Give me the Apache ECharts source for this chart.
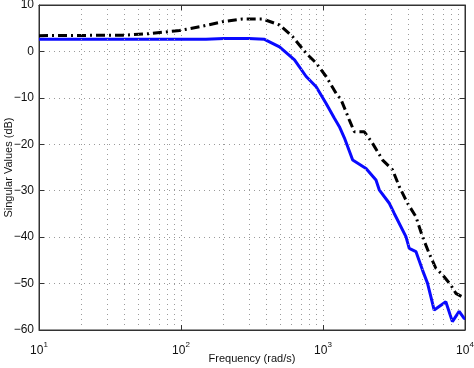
<!DOCTYPE html>
<html><head><meta charset="utf-8">
<script src="https://cdn.jsdelivr.net/npm/echarts@6/dist/echarts.min.js"></script>
<style>html,body{margin:0;padding:0;background:#fff}#c{width:474px;height:368px}</style>
</head><body><div id="c"></div>
<script>
// Data
const freqBlue = [10, 50, 150, 200, 300, 387, 494, 630, 761, 895, 1052, 1203, 1304, 1414, 1618, 2009, 2361, 2489, 2930, 3175, 3837, 4048, 4511, 5020, 5443, 6067, 7328, 8150, 9095, 9860, 10000];
const dbBlue   = [2.6, 2.6, 2.6, 2.8, 2.8, 2.6, 1.0, -1.8, -5.4, -7.6, -11.2, -14.4, -16.2, -18.6, -23.4, -25.2, -27.7, -29.8, -32.7, -34.9, -39.9, -42.4, -43.1, -47.1, -49.9, -55.7, -53.9, -58.2, -56.0, -57.5, -57.5];
const freqBlack = [10, 38.9, 58.3, 97.9, 135, 196, 271, 375, 494, 610, 761, 895, 1052, 1236, 1341, 1534, 1662, 1954, 2234, 2630, 3090, 3443, 3937, 4511, 5020, 5593, 6234, 6937, 7946, 8617, 10000];
const dbBlack   = [3.4, 3.5, 3.8, 4.5, 5.3, 6.4, 7.0, 7.0, 5.7, 3.2, -0.4, -2.5, -5.4, -9.0, -10.4, -14.8, -17.3, -17.3, -19.8, -23.4, -25.5, -29.1, -32.7, -35.6, -39.9, -43.5, -46.7, -48.1, -50.3, -52.1, -53.2];
const xTickExps = [1, 2, 3, 4];
const yTicks = [-60, -50, -40, -30, -20, -10, 0, 10];
const minorGridFreqs = [20,30,40,50,60,70,80,90,200,300,400,500,600,700,800,900,2000,3000,4000,5000,6000,7000,8000,9000];

const chart = echarts.init(document.getElementById('c'), null, {renderer: 'canvas'});
const font = 'Liberation Sans, Arial, sans-serif';
const gridDot = {color: '#9a9a9a', width: 1, type: [1, 4]};
const axisCol = '#333';
const pairs = (xs, ys) => xs.map((x, i) => [x, ys[i]]);

chart.setOption({
  animation: false,
  backgroundColor: '#fff',
  grid: {left: 39, right: 9, top: 5, bottom: 38, show: true, borderColor: axisCol, borderWidth: 1,
    containLabel: false, outerBoundsMode: 'none'},
  xAxis: [{
    type: 'log', logBase: 10, min: 10, max: 10000,
    name: 'Frequency (rad/s)', nameLocation: 'middle', nameGap: 23, nameMoveOverlap: false,
    nameTextStyle: {fontFamily: font, fontSize: 11, color: '#111'},
    axisLine: {show: true, onZero: false, lineStyle: {color: axisCol}},
    axisTick: {show: true, inside: true, length: 5, lineStyle: {color: axisCol}},
    splitLine: {show: true, lineStyle: gridDot},
    axisLabel: {
      margin: 11, color: '#111', fontFamily: font,
      formatter: v => '{b|10}{s|' + Math.round(Math.log10(v)) + '}',
      rich: {b: {fontSize: 12, fontFamily: font, color: '#111'}, s: {fontSize: 8, fontFamily: font, color: '#111', padding: [0, 0, 11, 0]}}
    }
  }, {
    type: 'log', logBase: 10, min: 10, max: 10000, position: 'top',
    axisLine: {show: true, onZero: false, lineStyle: {color: axisCol}},
    axisTick: {show: true, inside: true, length: 5, lineStyle: {color: axisCol}},
    axisLabel: {show: false}, splitLine: {show: false}
  }],
  yAxis: [{
    type: 'value', min: -60, max: 10, interval: 10,
    name: 'Singular Values (dB)', nameLocation: 'middle', nameGap: 25, nameMoveOverlap: false,
    nameTextStyle: {fontFamily: font, fontSize: 11, color: '#111'},
    axisLine: {show: true, onZero: false, lineStyle: {color: axisCol}},
    axisTick: {show: true, inside: true, length: 5, lineStyle: {color: axisCol}},
    splitLine: {show: true, lineStyle: gridDot},
    axisLabel: {margin: 5, fontSize: 12, fontFamily: font, color: '#111',
      formatter: v => (v < 0 ? '\u2212' + Math.abs(v) : String(v))}
  }, {
    type: 'value', min: -60, max: 10, interval: 10, position: 'right',
    axisLine: {show: true, onZero: false, lineStyle: {color: axisCol}},
    axisTick: {show: true, inside: true, length: 5, lineStyle: {color: axisCol}},
    axisLabel: {show: false}, splitLine: {show: false}
  }],
  series: [{
    type: 'line', name: 'minor grid', data: [], silent: true,
    markLine: {silent: true, symbol: 'none', label: {show: false},
      lineStyle: gridDot, animation: false,
      data: minorGridFreqs.map(f => ({xAxis: f}))}
  }, {
    type: 'line', name: 'sigma min', data: pairs(freqBlue, dbBlue),
    showSymbol: false, symbol: 'none', lineStyle: {color: '#0a0aff', width: 3}, z: 3
  }, {
    type: 'line', name: 'sigma max', data: pairs(freqBlack, dbBlack),
    showSymbol: false, symbol: 'none', lineStyle: {color: '#000', width: 3, type: [9, 4, 2, 4]}, z: 4
  }]
});
</script></body></html>
